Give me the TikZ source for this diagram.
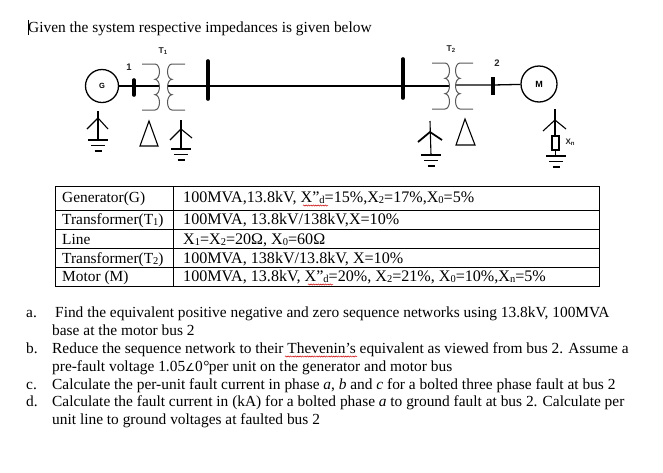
\documentclass[tikz,border=0pt]{standalone}
\usepackage{fontspec}
\setmainfont{Liberation Serif}
\newfontfamily\sym{DejaVu Sans}
\newfontfamily\lab{Liberation Sans}
\usetikzlibrary{decorations.pathmorphing}
\tikzset{
  wire/.style={line width=1.3pt,black},
  coilw/.style={line width=1pt,black!65},
  busbar/.style={line width=3.6pt,black,line cap=round},
  gnd/.style={line width=1.1pt,black},
  txt/.style={anchor=base west,inner sep=0pt,font=\fontsize{15.4}{17}\selectfont},
  txtb/.style={anchor=base west,inner sep=0pt,font=\fontsize{16.1}{17}\selectfont},
  sub/.style={font=\fontsize{9.5}{10}\selectfont\lab\bfseries,inner sep=0pt,text=black!85},
  rule/.style={line width=0.8pt,black},
  squig/.style={red!80!black,line width=0.5pt,decorate,decoration={snake,amplitude=0.6pt,segment length=2.4pt}}
}
\newcommand{\lo}[1]{\raisebox{-0.2ex}{\fontsize{10.5}{11}\selectfont #1}}
\newcommand{\los}[1]{\raisebox{-0.2ex}{\fontsize{6}{6}\selectfont #1}}
\newcommand{\gsym}[3]{% x, y top bar, half width
  \draw[gnd] (#1-#3,#2) -- (#1+#3,#2);
  \draw[gnd] (#1-#3*0.7,#2+5.5) -- (#1+#3*0.7,#2+5.5);
  \draw[gnd,line width=1.4pt] (#1-#3*0.35,#2+11) -- (#1+#3*0.35,#2+11);
}
\newcommand{\coilL}[2]{% x, y top : bumps to the right
  \draw[coilw] (#1-13,#2) -- (#1,#2)
    arc[start angle=-90,end angle=90,x radius=4.5,y radius=7.67]
    arc[start angle=-90,end angle=90,x radius=4.5,y radius=7.67]
    arc[start angle=-90,end angle=90,x radius=4.5,y radius=7.67]
    -- (#1-13,#2+46);
}
\newcommand{\coilR}[2]{% x, y top : bumps to the left
  \draw[coilw] (#1+13,#2) -- (#1,#2)
    arc[start angle=270,end angle=90,x radius=4.5,y radius=7.67]
    arc[start angle=270,end angle=90,x radius=4.5,y radius=7.67]
    arc[start angle=270,end angle=90,x radius=4.5,y radius=7.67]
    -- (#1+13,#2+46);
}
\begin{document}
\begin{tikzpicture}[x=1pt,y=-1pt]
\useasboundingbox (0,0) rectangle (663,472);
\fill[white] (0,0) rectangle (663,472);
% heading
\draw[line width=0.6pt] (28,20) -- (28,35);
\node[txt] (head) at (28,32) {Given the system respective impedances is given below};
% single line diagram
\node[circle,draw,line width=1.3pt,minimum size=33pt,inner sep=0pt,font=\fontsize{7.5}{7.5}\selectfont\lab\bfseries] (G) at (102,86) {G};
\node[circle,draw,line width=1.3pt,minimum size=36pt,inner sep=0pt,font=\fontsize{9}{9}\selectfont\lab\bfseries] (M) at (539,84) {M};
\coordinate (t1a) at (159,86);
\coordinate (t1b) at (168,86);
\coordinate (b1r) at (208,86);
\coordinate (b2l) at (403,86);
\coordinate (t2a) at (449,86);
\coordinate (t2b) at (456,85);
\coordinate (b2) at (493,85);
\draw[wire] (G) -- (t1a);
\draw[wire] (t1b) -- (b1r) -- (b2l) -- (t2a);
\draw[wire] (t2b) -- (b2) -- (M);
\draw[busbar] (134,80) -- (134,95);
\draw[busbar] (208,61) -- (208,99);
\draw[busbar] (403,59) -- (403,98);
\draw[busbar,line cap=butt] (493,77) -- (493,95);
\coilL{155}{64}
\coilR{172}{64}
\coilL{445}{63}
\coilR{460}{63}
\node[sub,font=\fontsize{8.5}{9}\selectfont\lab\bfseries] (T1) at (163,51) {T\los{1}};
\node[sub,font=\fontsize{8.5}{9}\selectfont\lab\bfseries] (T2) at (451,49) {T\los{2}};
\node[sub] (n1) at (129,67) {1};
\node[sub] (n2) at (497,63) {2};
% generator neutral
\draw[gnd] (98,111) -- (98,140);
\draw[gnd] (87,129) -- (98,118) -- (108,129);
\gsym{98}{140}{10}
% T1 delta
\draw[gnd,line join=miter] (140,146) -- (149,121) -- (158,146) -- cycle;
% T1 wye
\draw[gnd] (181,120) -- (181,149);
\draw[gnd] (170,140) -- (181,129) -- (192,138);
\gsym{181}{149}{10}
% T2 wye
\draw[gnd] (430,121) -- (431,155);
\draw[gnd,line width=1.8pt] (418,142) -- (430,132) -- (442,140);
\gsym{431}{155}{10}
% T2 delta
\draw[gnd,line join=miter] (456,145) -- (465,119) -- (475,145) -- cycle;
% motor neutral
\draw[gnd] (555,109) -- (555,136);
\draw[gnd] (543,131) -- (555,120) -- (566,129);
\node[draw,line width=1.2pt,minimum width=7pt,minimum height=14pt,inner sep=0pt] (Xn) at (555.5,143) {};
\draw[gnd] (Xn.south) -- (555.5,156);
\gsym{556}{156}{10}
\node[sub,font=\fontsize{8}{8}\selectfont\lab\bfseries] (xnl) at (570,142) {X\los{n}};
% table
\draw[rule] (55,186) rectangle (599,286);
\draw[rule] (173,186) -- (173,286);
\foreach \y in {210,229,248,267.5} \draw[rule] (55,\y) -- (599,\y);
\node[txt] (r1a) at (62,202) {Generator(G)};
\node[txt] (r2a) at (62,224) {Transformer(T\lo{1})};
\node[txt] (r3a) at (62,244) {Line};
\node[txt] (r4a) at (62,263) {Transformer(T\lo{2})};
\node[txt] (r5a) at (62,281) {Motor (M)};
\node[txtb] (r1b) at (183,202) {100MVA,13.8kV, X”\lo{d}=15\%,X\lo{2}=17\%,X\lo{0}=5\%};
\node[txtb] (r2b) at (183,224) {100MVA, 13.8kV/138kV,X=10\%};
\node[txtb] (r3b) at (183,244) {X\lo{1}=X\lo{2}=20Ω, X\lo{0}=60Ω};
\node[txtb] (r4b) at (183,263) {100MVA, 138kV/13.8kV, X=10\%};
\node[txtb] (r5b) at (183,281) {100MVA, 13.8kV, X”\lo{d}=20\%, X\lo{2}=21\%, X\lo{0}=10\%,X\lo{n}=5\%};
\draw[squig] (303,205.5) -- (328,205.5);
\draw[squig] (308,284.5) -- (333,284.5);
% questions
\node[txt] (qa) at (26,317) {a.};
\node[txt] (qa1) at (55,317) {Find the equivalent positive negative and zero sequence networks using 13.8kV, 100MVA};
\node[txt] (qa2) at (52,335) {base at the motor bus 2};
\node[txt] (qb) at (26,353) {b.};
\node[txt] (qb1) at (52,353) {Reduce the sequence network to their Thevenin’s equivalent as viewed from bus 2. Assume a};
\node[txt] (qb2) at (52,371) {pre-fault voltage 1.05{\sym\fontsize{11}{11}\selectfont ∠}0\textit{°}per unit on the generator and motor bus};
\node[txt] (qc) at (26,389) {c.};
\node[txt] (qc1) at (52,389) {Calculate the per-unit fault current in phase \textit{a}, \textit{b} and \textit{c} for a bolted three phase fault at bus 2};
\node[txt] (qd) at (26,406) {d.};
\node[txt] (qd1) at (52,406) {Calculate the fault current in (kA) for a bolted phase \textit{a} to ground fault at bus 2. Calculate per};
\node[txt] (qd2) at (52,424) {unit line to ground voltages at faulted bus 2};
\draw[squig] (285,356.5) -- (357,356.5);
\end{tikzpicture}
\end{document}
